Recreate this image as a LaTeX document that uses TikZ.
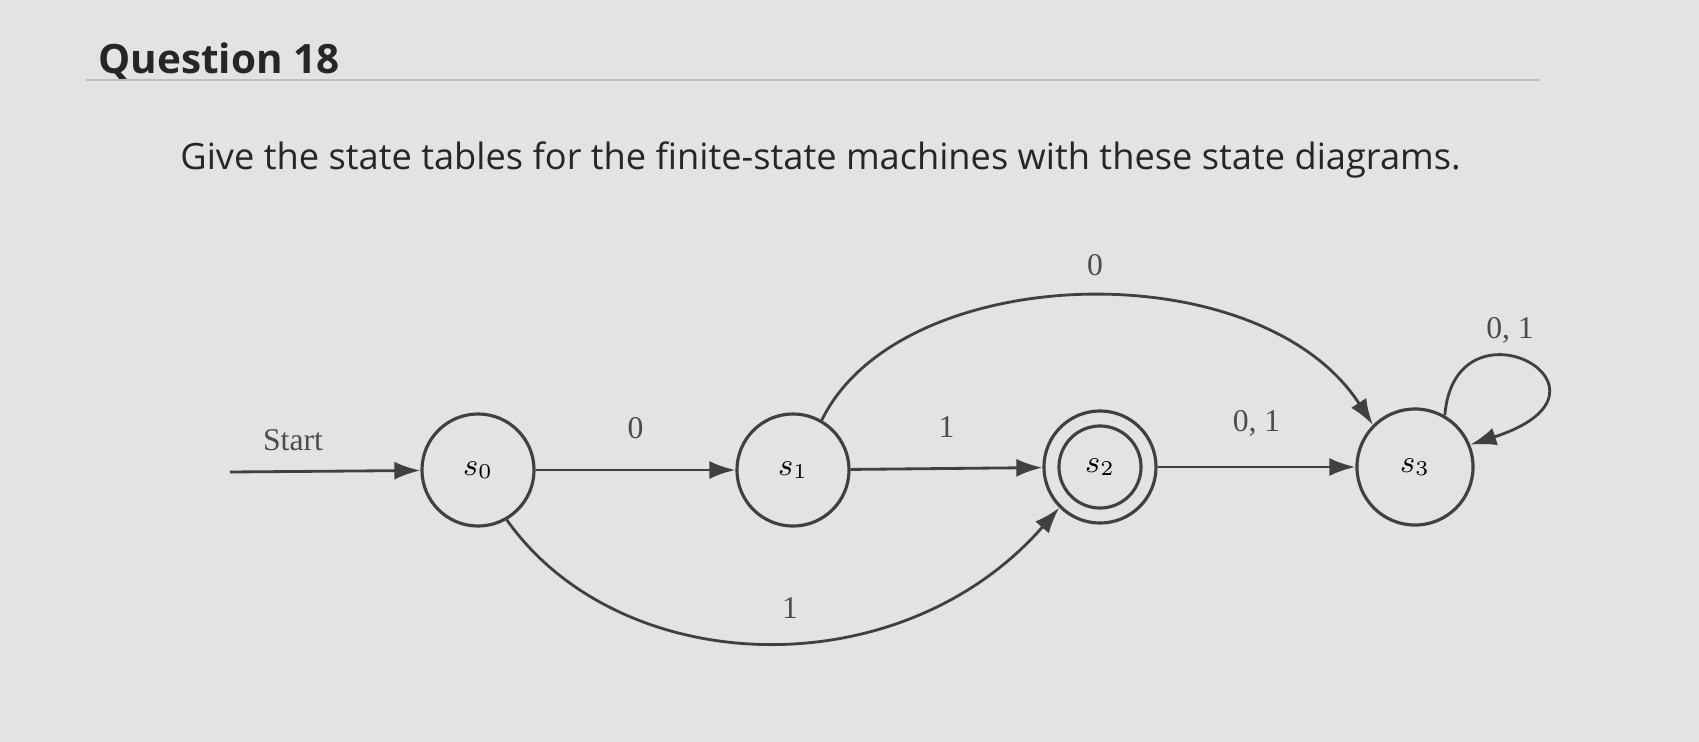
\documentclass[tikz,border=0pt]{standalone}
\usepackage{fontspec}
\setmainfont{Liberation Serif}
\newfontfamily\uifont{Open Sans}
\usetikzlibrary{arrows.meta}
\begin{document}
\begin{tikzpicture}[x=0.01cm,y=-0.01cm,
  st/.style={circle,draw=black!75,line width=0.9pt,minimum size=1.12cm,inner sep=0pt,font=\small},
  edge/.style={draw=black!75,line width=0.8pt,-{Latex[length=2.6mm,width=1.8mm]}},
  lbl/.style={font=\small,text=black!70}]
\fill[black!11] (0,0) rectangle (1699,742);
\useasboundingbox (0,0) rectangle (1699,742);
\node[anchor=west,font=\uifont\bfseries\fontsize{11.5}{13}\selectfont,text=black!85] (q) at (86,62) {Question 18};
\draw[black!25,line width=0.8pt] (86,80) -- (1540,80);
\node[anchor=west,font=\uifont\fontsize{10.3}{12}\selectfont,text=black!85] (g) at (168,160) {Give the state tables for the finite-state machines with these state diagrams.};
\node[st] (s0) at (478,470) {$s_0$};
\node[st] (s1) at (793,470) {$s_1$};
\node[st,minimum size=1.12cm] (s2) at (1100,467) {};
\node[st,minimum size=0.82cm] (s2i) at (1100,467) {$s_2$};
\node[st,minimum size=1.16cm] (s3) at (1415,467) {$s_3$};
\coordinate (start) at (230,472);
\node[lbl] (lstart) at (293,440) {Start};
\draw[edge] (start) -- (s0);
\draw[edge] (s0) -- node[lbl,above=5pt] (l0) {0} (s1);
\draw[edge] (s1) -- node[lbl,above=5pt] (l1) {1} (s2);
\draw[edge] (s2) -- node[lbl,above=5pt] (l01) {0, 1} (s3);
\draw[edge] (s1.60) .. controls (900,260) and (1260,250) .. (s3.135);
\node[lbl] (ltop) at (1095,265) {0};
\draw[edge] (s0.300) .. controls (620,680) and (900,690) .. (s2.225);
\node[lbl] (lbot) at (790,608) {1};
\draw[edge] (s3.60) .. controls (1455,290) and (1640,390) .. (s3.22);
\node[lbl] (lloop) at (1510,330) {0, 1};
\end{tikzpicture}
\end{document}
